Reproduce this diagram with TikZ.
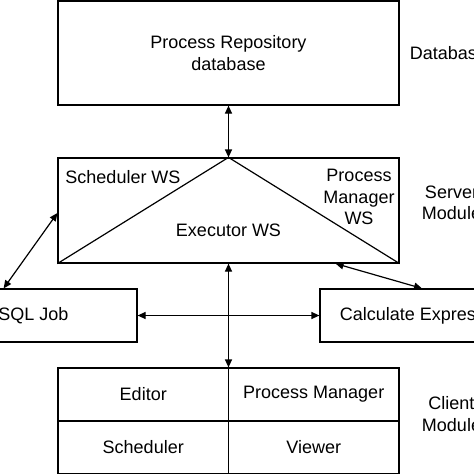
\documentclass[tikz,border=0pt]{standalone}
\usepackage{fontspec}
\setmainfont{Liberation Sans}
\usetikzlibrary{arrows.meta}
\begin{document}
\begin{tikzpicture}[x=1pt,y=-1pt,line width=1.2pt,font=\fontsize{18}{21.5}\selectfont,
  box/.style={draw,inner sep=0pt,align=center},
  cell/.style={box,minimum width=170.5pt,minimum height=53pt},
  both/.style={{Triangle[length=8pt,width=7pt]}-{Triangle[length=8pt,width=7pt]}}]
\useasboundingbox (0,0) rectangle (474,474);
\clip (0,0) rectangle (474,474);
\node[box,minimum width=341pt,minimum height=104pt] (repo) at (228.5,53) {Process Repository\\database};
\node[anchor=west] (dblbl) at (406,53) {Database};
\node[box,minimum width=341pt,minimum height=105pt] (server) at (228.5,210.5) {};
\draw (server.south west) -- (server.north) -- (server.south east);
\node (schedws) at (123,177) {Scheduler WS};
\node[align=center] (pmws) at (359,197) {Process\\Manager\\WS};
\node (execws) at (228.5,230) {Executor WS};
\node[align=center] (srvlbl) at (451.5,203) {Server\\Module};
\node[box,minimum width=207pt,minimum height=53pt] (sql) at (33.5,315.5) {SQL Job};
\node[box,minimum width=209pt,minimum height=53pt] (calc) at (424.5,315.5) {Calculate Expression};
\node[cell] (editor) at (143.25,394.5) {Editor};
\node[cell] (pmgr) at (313.75,394.5) {Process Manager};
\node[cell] (sched) at (143.25,447.5) {Scheduler};
\node[cell] (viewer) at (313.75,447.5) {Viewer};
\node[align=center] (cltlbl) at (451.5,414) {Client\\Module};
\draw[both] (repo.south) -- (server.north);
\draw[both] (server.south) -- (server.south |- editor.north);
\draw[both] (sql.east) -- (calc.west);
\draw[both] ([xshift=-134pt]sql.north east) -- ([yshift=-2.5pt]server.west);
\draw[both] ([xshift=-64pt]server.south east) -- ([xshift=-2.5pt]calc.north);
\end{tikzpicture}
\end{document}
